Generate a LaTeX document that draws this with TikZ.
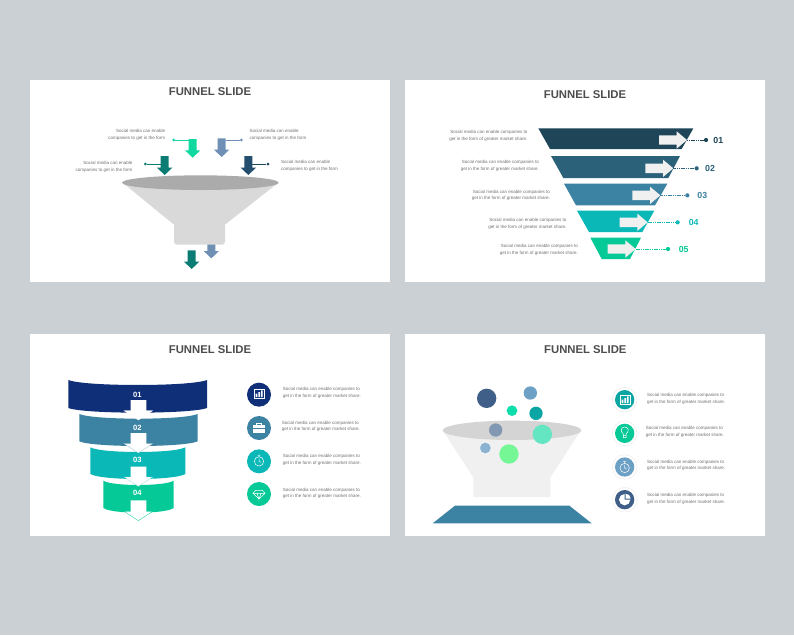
\documentclass[tikz,border=0pt]{standalone}
\usepackage{fontspec}
\setmainfont{Liberation Sans}
\usepackage{xcolor}
\usetikzlibrary{calc}
\definecolor{page}{HTML}{CAD0D4}
\definecolor{titletext}{HTML}{4D4D4D}
\definecolor{smalltext}{HTML}{707070}
\definecolor{navy}{HTML}{0F2F78}
\definecolor{ink}{HTML}{1E4558}
\definecolor{petrol}{HTML}{2B627A}
\definecolor{steel}{HTML}{3C82A3}
\definecolor{aqua}{HTML}{0BB8B8}
\definecolor{mint}{HTML}{05C997}
\definecolor{spring}{HTML}{0FD9A0}
\definecolor{slate}{HTML}{6F8FB5}
\definecolor{pine}{HTML}{0B7C74}
\definecolor{deep}{HTML}{234E6E}
\definecolor{dusk}{HTML}{3F5F88}
\definecolor{sky}{HTML}{6DA0C5}
\definecolor{arrowwhite}{HTML}{F0F0F0}
\tikzset{
  panel/.style={shift={(#1)},x=0.33333pt,y=-0.33333pt},
  slidetitle/.style={font=\fontsize{11.3}{14}\selectfont\bfseries,text=titletext,inner sep=0pt},
  blurb/.style={font=\fontsize{4.5}{6.67}\selectfont,text=smalltext,inner sep=0pt},
  blurbl/.style={blurb,anchor=west,align=left},
  blurbr/.style={blurb,anchor=east,align=right},
  tag/.style={font=\fontsize{8.8}{10}\selectfont\bfseries,inner sep=0pt},
  dot/.style={circle,inner sep=0pt,minimum size=#1},
  dot/.default=3pt
}
\newcommand{\DownArrow}[4]{%
  \fill[color=#4] (#1-12,#2) -- (#1+12,#2) -- (#1+12,#3-22) -- (#1+23,#3-22)
    -- (#1,#3) -- (#1-23,#3-22) -- (#1-12,#3-22) -- cycle;
}
\newcommand{\RightArrow}[2]{%
  \fill[color=arrowwhite] (#1,#2-14) -- (#1+53,#2-14) -- (#1+53,#2-26) -- (#1+84,#2)
    -- (#1+53,#2+26) -- (#1+53,#2+14) -- (#1,#2+14) -- cycle;
}
\newcommand{\Band}[7]{%
  % x left, x right, top corner, top middle, bottom corner, bottom middle, colour
  \fill[color=#7] (#1,#3) .. controls ({#1+(#2-#1)*0.12},{#3+(#4-#3)*1.33}) and ({#2-(#2-#1)*0.12},{#3+(#4-#3)*1.33}) .. (#2,#3)
    -- (#2,#5) .. controls ({#2-(#2-#1)*0.12},{#5+(#6-#5)*1.33}) and ({#1+(#2-#1)*0.12},{#5+(#6-#5)*1.33}) .. (#1,#5) -- cycle;
}
\newcommand{\BandArrow}[3]{%
  \fill[white] (302,#1) -- (349,#1) -- (349,#2-28) -- (368,#2-28)
    -- (325,#2) -- (282,#2-28) -- (302,#2-28) -- cycle;
  \draw[draw=#3,line width=0.3pt] (302,#2-28) -- (282,#2-28) -- (325,#2) -- (368,#2-28) -- (349,#2-28);
}
\newcommand{\IconChart}[2]{%
  \begin{scope}[shift={(#1,#2)}]
    \draw[white,line width=0.5pt] (-14,-14) -- (-14,13) -- (15,13) -- (15,-14) -- cycle;
    \fill[white] (-10,0) rectangle (-5,10) (-2,-5) rectangle (3,10) (6,-10) rectangle (11,10);
  \end{scope}
}
\newcommand{\IconCase}[3]{%
  \begin{scope}[shift={(#1,#2)}]
    \fill[white] (-17,-9) rectangle (17,14);
    \draw[white,line width=0.6pt] (-7,-9) -- (-7,-14) -- (7,-14) -- (7,-9);
    \draw[color=#3,line width=0.4pt] (-17,1) -- (17,1);
  \end{scope}
}
\newcommand{\IconWatch}[2]{%
  \begin{scope}[shift={(#1,#2)}]
    \draw[white,line width=0.5pt] (0,0) circle [radius=14];
    \draw[white,line width=0.5pt] (-4,-19) -- (4,-19) (0,-19) -- (0,-14) (0,-8) -- (0,0) -- (6,3);
  \end{scope}
}
\newcommand{\IconGem}[2]{%
  \begin{scope}[shift={(#1,#2)}]
    \draw[white,line width=0.5pt] (-10,-12) -- (10,-12) -- (18,-3) -- (0,14) -- (-18,-3) -- cycle
      (-18,-3) -- (18,-3) (-6,-3) -- (0,14) -- (6,-3);
  \end{scope}
}
\newcommand{\IconBulb}[2]{%
  \begin{scope}[shift={(#1,#2)}]
    \draw[white,line width=0.5pt] (-4,3) .. controls (-16,-6) and (-10,-18) .. (0,-18)
      .. controls (10,-18) and (16,-6) .. (4,3) -- (4,14) -- (-4,14) -- cycle (-4,8) -- (4,8);
  \end{scope}
}
\newcommand{\IconPie}[2]{%
  \begin{scope}[shift={(#1,#2)}]
    \fill[white] (0,0) -- (0,-17) arc[start angle=-90,delta angle=-270,radius=17] -- cycle;
    \fill[white] (3,-3) -- (3,-18) arc[start angle=-90,delta angle=90,radius=15] -- cycle;
  \end{scope}
}

\begin{document}
\begin{tikzpicture}[x=1pt,y=-1pt]
  \useasboundingbox[fill=page] (0,0) rectangle (794,635);
  \fill[white] (30,80) rectangle (390,282);
  \fill[white] (405,80) rectangle (765,282);
  \fill[white] (30,334) rectangle (390,536);
  \fill[white] (405,334) rectangle (765,536);

  % funnel with falling arrows
  \begin{scope}[panel={30,80}]
    \node[slidetitle] (titleA) at (540,35) {FUNNEL SLIDE};
    \DownArrow{544}{480}{535}{slate}
    \DownArrow{485}{511}{567}{pine}
    \fill[color=black!15,rounded corners=3pt] (432,420) rectangle (585,494);
    \fill[color=black!15] (278,308) -- (432,434) -- (585,434) -- (745,308) -- cycle;
    \fill[color=black!33] (511,308) ellipse [x radius=235,y radius=22];
    \DownArrow{488}{177}{233}{spring}
    \DownArrow{575}{175}{231}{slate}
    \DownArrow{404}{228}{285}{pine}
    \DownArrow{655}{228}{285}{deep}
    \coordinate (armA) at (476,180);
    \coordinate (armB) at (587,180);
    \coordinate (armC) at (392,252);
    \coordinate (armD) at (667,252);
    \node[dot,fill=spring] (dotA) at (431,180) {};
    \node[dot,fill=slate] (dotB) at (634,180) {};
    \node[dot,fill=pine] (dotC) at (346,252) {};
    \node[dot,fill=ink] (dotD) at (714,252) {};
    \draw[color=spring,line width=0.6pt] (dotA) -- (armA);
    \draw[color=slate,line width=0.6pt] (armB) -- (dotB);
    \draw[color=pine,line width=0.6pt] (dotC) -- (armC);
    \draw[color=ink,line width=0.6pt] (armD) -- (dotD);
    \node[blurbr] (noteA) at (406,165) {Social media can enable\\companies to get in the form};
    \node[blurbl] (noteB) at (658,164) {Social media can enable\\companies to get in the form};
    \node[blurbr] (noteC) at (308,260) {Social media can enable\\companies to get in the form};
    \node[blurbl] (noteD) at (753,258) {Social media can enable\\companies to get in the form};
  \end{scope}

  % five stacked trapezoids
  \begin{scope}[panel={405,80}]
    \node[slidetitle] (titleB) at (540,45) {FUNNEL SLIDE};
    \fill[color=ink] (400,145) -- (865,145) -- (830,207) -- (435,207) -- cycle;
    \fill[color=petrol] (438,228) -- (825,228) -- (790,294) -- (475,294) -- cycle;
    \fill[color=steel] (477,311) -- (787,311) -- (750,376) -- (513,376) -- cycle;
    \fill[color=aqua] (516,392) -- (748,392) -- (712,456) -- (552,456) -- cycle;
    \fill[color=mint] (556,473) -- (708,473) -- (675,537) -- (590,537) -- cycle;
    \foreach \tx/\ty/\dx/\numx/\col/\lbl/\notex/\notey in {%
      762/180/903/940/ink/01/368/167,
      721/265/875/915/petrol/02/402/257,
      682/346/847/892/steel/03/435/346,
      644/427/818/866/aqua/04/485/431,
      608/507/789/836/mint/05/519/510}{
      \RightArrow{\tx}{\ty}
      \coordinate (tip\lbl) at (\tx+84,\ty);
      \node[dot=4.2pt,fill=\col] (end\lbl) at (\dx,\ty) {};
      \draw[color=\col,dash pattern=on 1.2pt off 0.6pt,line width=0.6pt] (tip\lbl) -- (end\lbl);
      \node[tag,text=\col] (num\lbl) at (\numx,\ty) {\lbl};
      \node[blurbr] (info\lbl) at (\notex,\notey) {Social media can enable companies to\\get in the form of greater market share.};
    }
  \end{scope}

  % curved bands
  \begin{scope}[panel={30,334}]
    \node[slidetitle] (titleC) at (540,46) {FUNNEL SLIDE};
    \Band{115}{531}{138}{153}{222}{236}{navy}
    \Band{148}{503}{240}{254}{322}{336}{steel}
    \Band{181}{466}{340}{354}{420}{435}{aqua}
    \Band{220}{431}{440}{453}{522}{536}{mint}
    \BandArrow{198}{258}{white}
    \BandArrow{297}{357}{steel!50!white}
    \BandArrow{398}{457}{aqua!50!white}
    \BandArrow{499}{560}{mint}
    \foreach \y/\lbl in {183/01,281/02,377/03,477/04}
      \node[tag,text=white,font=\fontsize{7.6}{9}\selectfont\bfseries] (band\lbl) at (322,\y) {\lbl};
    \foreach \y/\col/\lbl in {182/navy/A,282/steel/B,382/aqua/C,480/mint/D}
      \node[dot=24pt,fill=\col] (badge\lbl) at (687,\y) {};
    \IconChart{687}{179}
    \IconCase{687}{282}{steel}
    \IconWatch{687}{382}
    \IconGem{687}{481}
    \node[blurbl] (lineA) at (758,177) {Social media can enable companies to\\get in the form of greater market share.};
    \node[blurbl] (lineB) at (755,277) {Social media can enable companies to\\get in the form of greater market share.};
    \node[blurbl] (lineC) at (758,377) {Social media can enable companies to\\get in the form of greater market share.};
    \node[blurbl] (lineD) at (758,478) {Social media can enable companies to\\get in the form of greater market share.};
  \end{scope}

  % funnel with balls
  \begin{scope}[panel={405,334}]
    \node[slidetitle] (titleD) at (541,46) {FUNNEL SLIDE};
    \fill[color=arrowwhite] (113,289) -- (205,430) -- (205,489) -- (436,489) -- (436,430) -- (528,289) -- cycle;
    \fill[color=black!17] (321,289) ellipse [x radius=208,y radius=29];
    \fill[color=steel] (150,515) -- (493,515) -- (560,568) -- (83,568) -- cycle;
    \foreach \x/\y/\r/\col in {245/193/29/dusk,376/177/20/sky,321/230/16/spring!90!cyan,393/238/20/aqua!70!pine,
      272/288/20/dusk!65!white,412/301/29/spring!65!white,241/342/16/sky!80!white,312/360/29/spring!40!green!55!white}
      \fill[color=\col] (\x,\y) circle [radius=\r];
    \foreach \y/\col/\lbl in {197/aqua!70!pine/A,298/mint/B,399/sky/C,497/dusk/D}{
      \node[dot=24.7pt,draw=black!10,line width=0.3pt,fill=white] (ring\lbl) at (659,\y) {};
      \node[dot=19.3pt,fill=\col] (disc\lbl) at (659,\y) {};
    }
    \IconChart{660}{197}
    \IconBulb{659}{297}
    \IconWatch{659}{402}
    \IconPie{659}{497}
    \node[blurbl] (rowA) at (726,194) {Social media can enable companies to\\get in the form of greater market share.};
    \node[blurbl] (rowB) at (722,294) {Social media can enable companies to\\get in the form of greater market share.};
    \node[blurbl] (rowC) at (726,394) {Social media can enable companies to\\get in the form of greater market share.};
    \node[blurbl] (rowD) at (726,494) {Social media can enable companies to\\get in the form of greater market share.};
  \end{scope}
\end{tikzpicture}
\end{document}
